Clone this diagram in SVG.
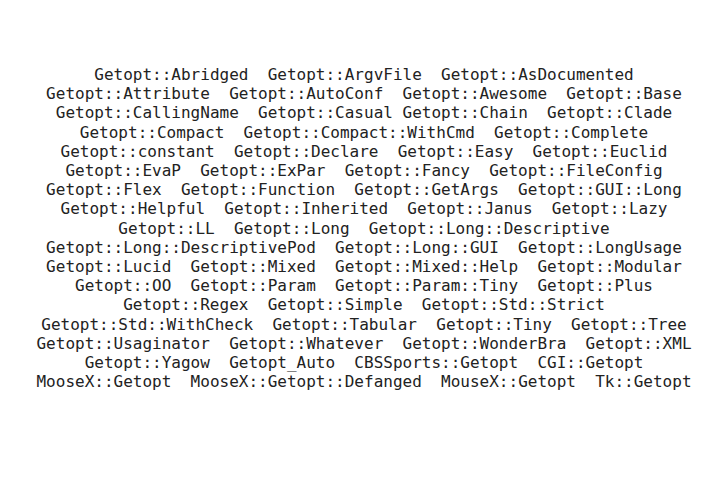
<svg xmlns="http://www.w3.org/2000/svg" width="728" height="486" viewBox="0 0 728 486"><style>text{font-family:"DejaVu Sans Mono",monospace;font-size:16px;fill:#222;text-anchor:middle;white-space:pre}</style><rect width="728" height="486" fill="#fff"/><g id="list" xml:space="preserve"><text x="364" y="80">Getopt::Abridged  Getopt::ArgvFile  Getopt::AsDocumented</text><text x="364" y="99">Getopt::Attribute  Getopt::AutoConf  Getopt::Awesome  Getopt::Base</text><text x="364" y="118">Getopt::CallingName  Getopt::Casual Getopt::Chain  Getopt::Clade</text><text x="364" y="138">Getopt::Compact  Getopt::Compact::WithCmd  Getopt::Complete</text><text x="364" y="157">Getopt::constant  Getopt::Declare  Getopt::Easy  Getopt::Euclid</text><text x="364" y="176">Getopt::EvaP  Getopt::ExPar  Getopt::Fancy  Getopt::FileConfig</text><text x="364" y="195">Getopt::Flex  Getopt::Function  Getopt::GetArgs  Getopt::GUI::Long</text><text x="364" y="214">Getopt::Helpful  Getopt::Inherited  Getopt::Janus  Getopt::Lazy</text><text x="364" y="234">Getopt::LL  Getopt::Long  Getopt::Long::Descriptive</text><text x="364" y="253">Getopt::Long::DescriptivePod  Getopt::Long::GUI  Getopt::LongUsage</text><text x="364" y="272">Getopt::Lucid  Getopt::Mixed  Getopt::Mixed::Help  Getopt::Modular</text><text x="364" y="291">Getopt::OO  Getopt::Param  Getopt::Param::Tiny  Getopt::Plus</text><text x="364" y="310">Getopt::Regex  Getopt::Simple  Getopt::Std::Strict</text><text x="364" y="330">Getopt::Std::WithCheck  Getopt::Tabular  Getopt::Tiny  Getopt::Tree</text><text x="364" y="349">Getopt::Usaginator  Getopt::Whatever  Getopt::WonderBra  Getopt::XML</text><text x="364" y="368">Getopt::Yagow  Getopt_Auto  CBSSports::Getopt  CGI::Getopt</text><text x="364" y="387">MooseX::Getopt  MooseX::Getopt::Defanged  MouseX::Getopt  Tk::Getopt</text></g></svg>
